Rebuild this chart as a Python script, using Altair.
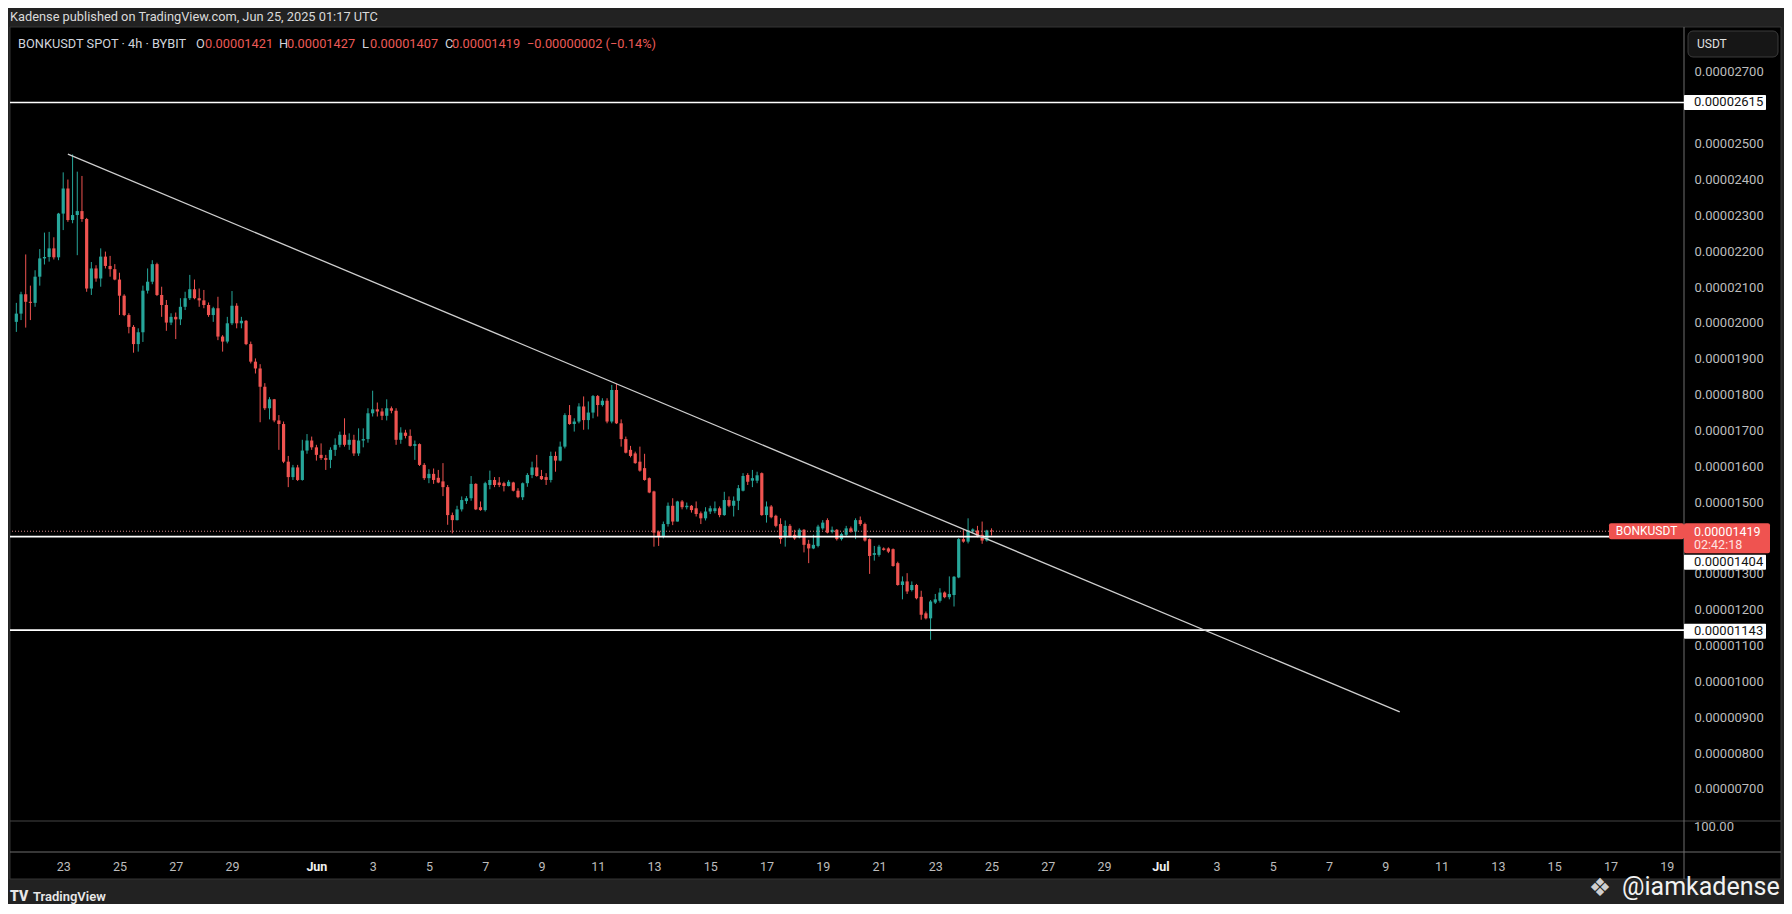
import altair as alt
import pandas as pd

# ---------------- data (prices in units of 1e-8 USDT) ----------------
UNIT = 1e-8
FIRST_BAR = "2025-05-21 08:00"   # first visible 4h candle (UTC)

open_ = [
    2003, 2026, 2080, 2059, 2056, 2129, 2180, 2184, 2208, 2183,
    2305, 2375, 2287, 2301, 2312, 2290, 2096, 2152, 2124, 2185,
    2159, 2150, 2121, 2076, 2022, 1989, 1941, 1974, 2090, 2115,
    2164, 2078, 2050, 2001, 2017, 2010, 2045, 2069, 2094, 2069,
    2063, 2050, 2022, 2041, 1962, 1948, 1999, 2048, 1999, 2006,
    1941, 1892, 1873, 1822, 1762, 1787, 1728, 1718, 1613, 1570,
    1597, 1562, 1644, 1672, 1653, 1632, 1623, 1618, 1646, 1660,
    1688, 1660, 1674, 1636, 1672, 1676, 1748, 1759, 1753, 1741,
    1762, 1755, 1674, 1694, 1685, 1657, 1662, 1604, 1567, 1579,
    1568, 1558, 1542, 1464, 1450, 1480, 1503, 1511, 1551, 1486,
    1478, 1548, 1562, 1555, 1553, 1545, 1555, 1532, 1514, 1553,
    1576, 1597, 1573, 1570, 1562, 1629, 1616, 1655, 1743, 1718,
    1725, 1767, 1729, 1750, 1796, 1771, 1783, 1725, 1813, 1720,
    1676, 1646, 1636, 1613, 1595, 1567, 1530, 1418, 1404, 1439,
    1490, 1446, 1502, 1486, 1490, 1483, 1469, 1455, 1474, 1475,
    1483, 1464, 1506, 1490, 1504, 1532, 1576, 1560, 1560, 1581,
    1464, 1488, 1462, 1439, 1402, 1434, 1409, 1402, 1423, 1384,
    1371, 1378, 1427, 1450, 1417, 1423, 1397, 1409, 1427, 1418,
    1450, 1439, 1397, 1353, 1353, 1371, 1371, 1369, 1330, 1269,
    1279, 1255, 1269, 1236, 1190, 1176, 1220, 1225, 1248, 1235,
    1241, 1290, 1397, 1390, 1418, 1421, 1409, 1393, 1421,
]
high = [
    2056, 2087, 2191, 2104, 2147, 2206, 2252, 2254, 2239, 2307,
    2420, 2400, 2470, 2422, 2410, 2293, 2170, 2161, 2208, 2199,
    2187, 2164, 2140, 2080, 2027, 1994, 1985, 2104, 2152, 2175,
    2168, 2101, 2064, 2027, 2029, 2069, 2087, 2134, 2121, 2096,
    2092, 2057, 2045, 2073, 1966, 2017, 2089, 2055, 2017, 2008,
    1948, 1901, 1885, 1832, 1793, 1788, 1743, 1725, 1629, 1604,
    1604, 1674, 1690, 1683, 1660, 1664, 1632, 1653, 1678, 1697,
    1734, 1692, 1688, 1706, 1706, 1762, 1811, 1778, 1762, 1787,
    1767, 1762, 1709, 1702, 1703, 1672, 1664, 1609, 1592, 1594,
    1590, 1609, 1548, 1471, 1490, 1516, 1517, 1573, 1553, 1502,
    1557, 1588, 1570, 1570, 1557, 1562, 1557, 1539, 1555, 1581,
    1613, 1632, 1590, 1581, 1641, 1641, 1669, 1748, 1771, 1734,
    1776, 1795, 1781, 1799, 1799, 1790, 1790, 1827, 1830, 1731,
    1683, 1657, 1641, 1655, 1635, 1569, 1532, 1421, 1446, 1499,
    1511, 1504, 1506, 1499, 1492, 1502, 1474, 1486, 1490, 1502,
    1488, 1529, 1516, 1516, 1548, 1581, 1581, 1590, 1585, 1583,
    1502, 1492, 1465, 1455, 1449, 1439, 1423, 1427, 1425, 1395,
    1409, 1437, 1450, 1455, 1432, 1425, 1415, 1434, 1432, 1455,
    1460, 1443, 1399, 1378, 1381, 1374, 1374, 1371, 1334, 1293,
    1302, 1279, 1272, 1253, 1195, 1227, 1244, 1260, 1251, 1293,
    1294, 1400, 1423, 1455, 1427, 1434, 1446, 1423, 1427,
]
low = [
    1975, 2008, 1987, 2008, 2045, 2104, 2163, 2171, 2177, 2175,
    2259, 2282, 2278, 2189, 2282, 2087, 2078, 2115, 2101, 2152,
    2129, 2119, 2022, 2019, 1971, 1917, 1920, 1947, 2082, 2108,
    2075, 2017, 1978, 1994, 1955, 1994, 2036, 2064, 2066, 2045,
    2041, 2017, 2003, 1952, 1920, 1943, 1994, 1985, 1985, 1938,
    1887, 1859, 1723, 1757, 1731, 1723, 1646, 1609, 1542, 1562,
    1559, 1560, 1635, 1646, 1616, 1618, 1590, 1595, 1629, 1653,
    1655, 1646, 1629, 1629, 1653, 1666, 1739, 1739, 1729, 1728,
    1748, 1660, 1663, 1678, 1655, 1618, 1601, 1562, 1553, 1551,
    1553, 1517, 1437, 1413, 1449, 1474, 1495, 1504, 1478, 1476,
    1474, 1536, 1542, 1542, 1530, 1544, 1530, 1511, 1506, 1543,
    1567, 1571, 1562, 1548, 1555, 1585, 1614, 1650, 1716, 1697,
    1720, 1702, 1703, 1734, 1739, 1767, 1720, 1720, 1718, 1655,
    1636, 1625, 1607, 1585, 1560, 1525, 1376, 1378, 1399, 1432,
    1436, 1446, 1480, 1480, 1471, 1460, 1439, 1449, 1467, 1469,
    1458, 1462, 1486, 1460, 1478, 1530, 1548, 1542, 1553, 1462,
    1443, 1455, 1430, 1384, 1376, 1402, 1395, 1399, 1360, 1330,
    1369, 1374, 1423, 1413, 1413, 1393, 1393, 1406, 1415, 1397,
    1434, 1390, 1300, 1337, 1348, 1365, 1358, 1320, 1267, 1229,
    1244, 1251, 1229, 1172, 1173, 1116, 1216, 1220, 1232, 1229,
    1209, 1288, 1387, 1385, 1413, 1402, 1384, 1390, 1407,
]
close = [
    2026, 2080, 2059, 2056, 2129, 2180, 2184, 2208, 2183, 2305,
    2375, 2287, 2301, 2312, 2290, 2096, 2152, 2124, 2185, 2159,
    2150, 2121, 2076, 2022, 1989, 1941, 1974, 2090, 2115, 2164,
    2078, 2050, 2001, 2017, 2010, 2045, 2069, 2094, 2069, 2063,
    2050, 2022, 2041, 1962, 1948, 1999, 2048, 1999, 2006, 1941,
    1892, 1873, 1822, 1762, 1787, 1728, 1718, 1613, 1570, 1597,
    1562, 1644, 1672, 1653, 1632, 1623, 1618, 1646, 1660, 1688,
    1660, 1674, 1636, 1672, 1676, 1748, 1759, 1753, 1741, 1762,
    1755, 1674, 1694, 1685, 1657, 1662, 1604, 1567, 1579, 1562,
    1555, 1542, 1464, 1450, 1480, 1506, 1511, 1551, 1480, 1478,
    1553, 1562, 1548, 1548, 1545, 1557, 1532, 1514, 1553, 1576,
    1597, 1573, 1564, 1562, 1629, 1616, 1655, 1743, 1718, 1725,
    1767, 1729, 1750, 1796, 1771, 1783, 1725, 1813, 1720, 1676,
    1638, 1629, 1609, 1588, 1562, 1527, 1415, 1404, 1439, 1490,
    1446, 1502, 1486, 1490, 1478, 1467, 1455, 1474, 1483, 1483,
    1464, 1506, 1490, 1504, 1539, 1573, 1557, 1567, 1575, 1464,
    1488, 1458, 1434, 1397, 1434, 1406, 1399, 1423, 1381, 1371,
    1381, 1432, 1443, 1415, 1423, 1397, 1411, 1427, 1418, 1450,
    1439, 1393, 1350, 1358, 1376, 1367, 1362, 1322, 1269, 1279,
    1251, 1269, 1232, 1186, 1176, 1223, 1229, 1248, 1235, 1244,
    1292, 1397, 1390, 1421, 1424, 1406, 1393, 1421, 1419,
]

levels = [2615, 1404, 1143]                       # horizontal S/R lines
trend_time = ["2025-05-23T04:00:00Z", "2025-07-09T12:15:00Z"]
trend_price = [2471, 915]
# scale labels that stay visible (2600 and 1400 sit under the price tags)
price_ticks = [700, 800, 900, 1000, 1100, 1200, 1300, 1500, 1600, 1700,
               1800, 1900, 2000, 2100, 2200, 2300, 2400, 2500, 2700]
date_ticks = [
    "2025-05-23", "2025-05-25", "2025-05-27", "2025-05-29",
    "2025-06-01", "2025-06-03", "2025-06-05", "2025-06-07", "2025-06-09",
    "2025-06-11", "2025-06-13", "2025-06-15", "2025-06-17", "2025-06-19",
    "2025-06-21", "2025-06-23", "2025-06-25", "2025-06-27", "2025-06-29",
    "2025-07-01", "2025-07-03", "2025-07-05", "2025-07-07", "2025-07-09",
    "2025-07-11", "2025-07-13", "2025-07-15", "2025-07-17", "2025-07-19",
]
HEADER = "Kadense published on TradingView.com, Jun 25, 2025 01:17 UTC"
SYMBOL = "BONKUSDT SPOT \u00b7 4h \u00b7 BYBIT"
COUNTDOWN = "02:42:18"
WATERMARK = "@iamkadense"

# ---------------- layout / style ----------------
W, H = 1674, 794
Y_DOMAIN = [610.7, 2825.5]
UPP = (Y_DOMAIN[1] - Y_DOMAIN[0]) / H      # price units per pixel
UP, DOWN = "#26a69a", "#ef5350"
TXT = "#d1d4dc"
AXIS_TXT = "#bdbdbd"
GRAY_BG = "#222222"
FONT = "Roboto"


def dt(s, h=0, m=0):
    y, mo, d = (int(v) for v in s.split("-"))
    return alt.DateTime(year=y, month=mo, date=d, hours=h, minutes=m, utc=True)


xscale = alt.Scale(type="utc", domain=[dt("2025-05-21", 6, 52), dt("2025-07-19", 10, 31)])
xaxis = alt.Axis(
    values=[dt(s) for s in date_ticks],
    labelExpr="utcdate(datum.value) == 1 ? utcFormat(datum.value, '%b') : utcFormat(datum.value, '%-d')",
    orient="bottom", offset=31, labelPadding=14, labelBaseline="middle",
    ticks=False, tickSize=0, domain=False, grid=False, labelFlush=False, labelOverlap=False,
    labelFontSize=12.5, labelFont=FONT,
    labelColor={"condition": {"test": "utcdate(datum.value) == 1", "value": "#f0f0f0"}, "value": AXIS_TXT},
    labelFontWeight={"condition": {"test": "utcdate(datum.value) == 1", "value": "bold"}, "value": "normal"},
    title=None,
)
yscale = alt.Scale(domain=Y_DOMAIN, nice=False, zero=False)
yaxis = alt.Axis(
    orient="right", values=price_ticks,
    labelExpr="format(datum.value / 100000000, '.8f')",
    labelPadding=10, ticks=False, tickSize=0, domain=False, grid=False,
    labelFontSize=13, labelFont=FONT, labelColor=AXIS_TXT, labelOverlap=False,
    labelFlush=False, labelAlign="left", labelBaseline="middle", title=None,
)


def X(field="t"):
    return alt.X(f"{field}:T", scale=xscale, axis=xaxis, title=None)


def Y(field):
    return alt.Y(f"{field}:Q", scale=yscale, axis=yaxis, title=None)


ONE = pd.DataFrame({"_": [0]})


def rect(x, x2, y, y2, **kw):
    return alt.Chart(ONE).mark_rect(**kw).encode(
        x=alt.value(x), x2=alt.value(x2), y=alt.value(y), y2=alt.value(y2))


def rule(x, x2, y, y2, **kw):
    return alt.Chart(ONE).mark_rule(**kw).encode(
        x=alt.value(x), x2=alt.value(x2), y=alt.value(y), y2=alt.value(y2))


def text(s, x, y, **kw):
    kw.setdefault("font", FONT)
    kw.setdefault("align", "left")
    kw.setdefault("baseline", "middle")
    return alt.Chart(ONE).mark_text(**kw).encode(
        x=alt.value(x), y=alt.value(y), text=alt.value(s))


# ---------------- candles ----------------
times = pd.date_range(FIRST_BAR, periods=len(close), freq="4h").strftime("%Y-%m-%dT%H:%M:%SZ")
df = pd.DataFrame({"t": list(times), "o": open_, "h": high, "l": low, "c": close})
candle_color = alt.when(alt.datum.c >= alt.datum.o).then(alt.value(UP)).otherwise(alt.value(DOWN))

wicks = alt.Chart(df).mark_rule(strokeWidth=1).encode(x=X(), y=Y("l"), y2="h:Q", color=candle_color)
bodies = alt.Chart(df).mark_bar(size=3.2).encode(x=X(), y=Y("o"), y2="c:Q", color=candle_color)

last = close[-1]
price_line = alt.Chart(pd.DataFrame({"p": [last]})).mark_rule(
    color="#d98a88", strokeDash=[1, 2], strokeWidth=1).encode(y=Y("p"))
level_lines = alt.Chart(pd.DataFrame({"p": levels})).mark_rule(
    color="#ffffff", strokeWidth=1.6).encode(y=Y("p"))
trend = alt.Chart(pd.DataFrame({"t": trend_time, "p": trend_price})).mark_line(
    color="#cfcfcf", strokeWidth=1.3).encode(x=X(), y=Y("p"))

# ---------------- price-scale labels ----------------
LABEL_SHIFT_PX = [0, 25.7, 1.0]      # 1404 label pushed down by the live-price tag
lab = pd.DataFrame({"p": levels})
lab["center"] = [p - s * UPP for p, s in zip(levels, LABEL_SHIFT_PX)]
lab["top"] = lab["center"] + 7.5 * UPP
lab["bot"] = lab["center"] - 7.5 * UPP
lab["txt"] = [f"{p * UNIT:.8f}" for p in levels]
level_boxes = alt.Chart(lab).mark_rect(color="#ffffff", cornerRadius=1).encode(
    x=alt.value(W), x2=alt.value(W + 82), y=Y("top"), y2="bot:Q")
level_texts = alt.Chart(lab).mark_text(
    align="left", baseline="middle", color="#111111", fontSize=13, font=FONT).encode(
    x=alt.value(W + 10), y=Y("center"), text="txt:N")

live = pd.DataFrame({
    "top": [last + 8 * UPP], "bot": [last - 22 * UPP],
    "tagtop": [last + 8 * UPP], "tagbot": [last - 8 * UPP],
    "l1": [last - 0.5 * UPP], "l2": [last - 14 * UPP],
    "price": [f"{last * UNIT:.8f}"], "cd": [COUNTDOWN], "sym": ["BONKUSDT"],
})
live_box = alt.Chart(live).mark_rect(color="#ef5350", cornerRadius=2).encode(
    x=alt.value(W), x2=alt.value(W + 86), y=Y("top"), y2="bot:Q")
tag_box = alt.Chart(live).mark_rect(color="#ef5350", cornerRadius=2).encode(
    x=alt.value(W - 75), x2=alt.value(W), y=Y("tagtop"), y2="tagbot:Q")
live_t1 = alt.Chart(live).mark_text(align="left", baseline="middle", color="#ffffff",
                                    fontSize=12.5, font=FONT).encode(
    x=alt.value(W + 10), y=Y("l1"), text="price:N")
live_t2 = alt.Chart(live).mark_text(align="left", baseline="middle", color="#ffe3e3",
                                    fontSize=12.5, font=FONT).encode(
    x=alt.value(W + 10), y=Y("l2"), text="cd:N")
tag_t = alt.Chart(live).mark_text(align="center", baseline="middle", color="#ffffff",
                                  fontSize=12, font=FONT).encode(
    x=alt.value(W - 37.5), y=Y("tagtop"), text="sym:N", yOffset=alt.value(8))

# ---------------- OHLC legend text ----------------
chg = close[-1] - close[-2]
pct = chg / close[-2] * 100
sign = "\u2212" if chg < 0 else "+"
RED_TXT = "#eb5a57"
legend = [
    text(SYMBOL, 8, 17, fontSize=12.8, color=TXT),
    text("O", 186, 17, fontSize=12.8, color=TXT),
    text(f"{open_[-1] * UNIT:.8f}", 195, 17, fontSize=12.8, color=RED_TXT),
    text("H", 269, 17, fontSize=12.8, color=TXT),
    text(f"{high[-1] * UNIT:.8f}", 277, 17, fontSize=12.8, color=RED_TXT),
    text("L", 352, 17, fontSize=12.8, color=TXT),
    text(f"{low[-1] * UNIT:.8f}", 360, 17, fontSize=12.8, color=RED_TXT),
    text("C", 435, 17, fontSize=12.8, color=TXT),
    text(f"{close[-1] * UNIT:.8f}", 442, 17, fontSize=12.8, color=RED_TXT),
    text(f"{sign}{abs(chg) * UNIT:.8f} ({sign}{abs(pct):.2f}%)", 517, 17, fontSize=12.8, color=RED_TXT),
]

# ---------------- frame decorations ----------------
frame = [
    rect(-2, 1774, -19, 0, color=GRAY_BG),
    rect(-2, 1774, 852, 877, color=GRAY_BG),
    rect(-2, 0, 0, 852, color=GRAY_BG),
    rect(1771, 1774, 0, 852, color=GRAY_BG),
    rect(0, 1771, 0, 852, fill=None, stroke="#343434", strokeWidth=1, fillOpacity=0),
    rule(0, 1771, 794, 794, color="#454545", strokeWidth=1),
    rule(0, 1771, 825, 825, color="#6e6e6e", strokeWidth=1),
    rule(W, W, 0, 852, color="#6e6e6e", strokeWidth=1),
]
extras = [
    rect(1678, 1768, 4, 30, color="#161616", stroke="#3a3a3a", strokeWidth=1, cornerRadius=5),
    text("USDT", 1687, 17, fontSize=12, color="#e0e0e0"),
    text("100.00", W + 10, 800, fontSize=13, color=AXIS_TXT),
    text(HEADER, 0, -10, fontSize=12.8, color="#dadada"),
    text("TV", 0, 870, fontSize=14, fontWeight=900, color="#e8e8e8"),
    text("TradingView", 23, 870, fontSize=13, fontWeight=600, color="#e8e8e8"),
    text("\u2756", 1590, 861, align="center", fontSize=25, font="DejaVu Sans", color="#cfcfcf"),
    text(WATERMARK, 1612, 860, fontSize=25, color="#f2f2f2"),
]

chart = alt.layer(
    *frame,
    wicks, bodies, price_line, level_lines, trend,
    level_boxes, level_texts, live_box, tag_box, live_t1, live_t2, tag_t,
    *legend, *extras,
).properties(
    width=W, height=H,
    padding={"left": 2, "top": 19, "right": 100, "bottom": 83},
    autosize=alt.AutoSizeParams(type="none"),
).configure(
    background="#000000", font=FONT,
).configure_view(stroke=None)

chart.save("out.html", embed_options={"renderer": "svg", "actions": False})
